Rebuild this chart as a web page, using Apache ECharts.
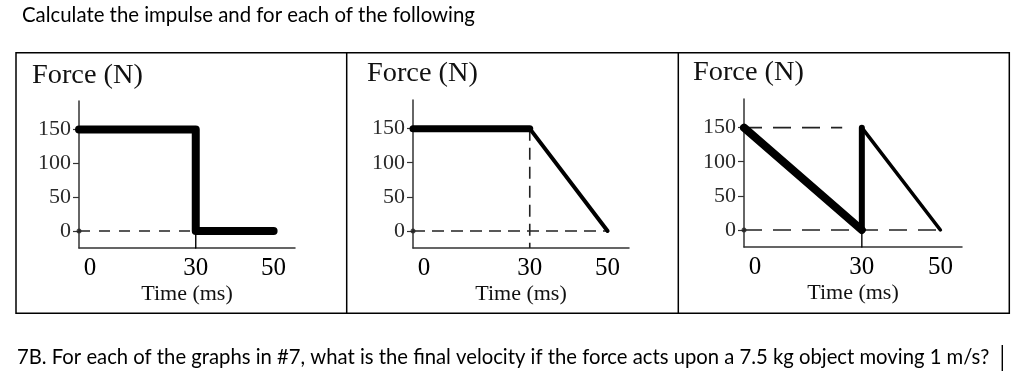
<!DOCTYPE html>
<html>
<head>
<meta charset="utf-8">
<script src="https://cdn.jsdelivr.net/npm/echarts@6/dist/echarts.min.js"></script>
<style>
html,body{margin:0;padding:0;background:#fff;}
#chart{width:1032px;height:380px;}
</style>
</head>
<body>
<div id="chart"></div>
<script>
// ---- text ----
const headingText = 'Calculate the impulse and for each of the following';
const questionText = '7B. For each of the graphs in #7, what is the final velocity if the force acts upon a 7.5 kg object moving 1 m/s?';
const panelTitles = ['Force (N)', 'Force (N)', 'Force (N)'];
const xAxisName = 'Time (ms)';

// ---- ticks ----
const xTicks = [0, 30, 50];
const yTicks = [0, 50, 100, 150];

// ---- panel A: constant then zero ----
const forceA = [[0, 150], [30, 150], [30, 0], [50, 0]];
const guideA = [[0, 0], [30, 0]];
const dropA = [[30, 0], [30, -25]];

// ---- panel B: constant then ramp ----
const forceBflat = [[0, 150], [30, 150]];
const forceBramp = [[30, 150], [50, 0]];
const guideBzero = [[0, 0], [50, 0]];
const guideBvert = [[30, 150], [30, -25]];

// ---- panel C: saw-tooth ----
const forceCramp1 = [[0, 150], [30, 0]];
const forceCjump = [[30, 0], [30, 150]];
const forceCramp2 = [[30, 150], [50, 0]];
const guideCtop = [[0, 150], [25, 150]];
const guideCzero = [[0, 0], [50, 0]];
const dropC = [[30, 0], [30, -25]];

const origin = [[0, 0]];

const SERIF = 'Liberation Serif';
const SANS = 'Lato';

function fitSize(text, family, target) {
  const c = document.createElement('canvas').getContext('2d');
  c.font = '100px "' + family + '"';
  return 100 * target / c.measureText(text).width;
}

const grids = [
  {left: 79, top: 101, width: 216, height: 147},
  {left: 413, top: 100, width: 216, height: 148},
  {left: 744, top: 99, width: 218, height: 148}
];

const xAxes = grids.map((g, i) => ({
  type: 'value', gridIndex: i, min: 0, max: 55.5,
  name: xAxisName, nameLocation: 'middle', nameGap: 35,
  nameTextStyle: {fontFamily: SERIF, fontSize: 22, color: '#111'},
  axisLine: {show: true, onZero: false, lineStyle: {color: '#333', width: 1.5}},
  axisTick: {show: false},
  splitLine: {show: false},
  axisLabel: {
    customValues: xTicks, margin: 8, fontFamily: SERIF, fontSize: 25, color: '#000',
    formatter: v => v === 0 ? '{z|0}' : String(v),
    rich: {z: {padding: [0, 0, 0, 22], fontFamily: SERIF, fontSize: 25, color: '#000'}}
  }
}));

const yAxes = grids.map((g, i) => ({
  type: 'value', gridIndex: i, min: -25, max: 192,
  axisLine: {show: true, onZero: false, lineStyle: {color: '#333', width: 1.5}},
  axisTick: {show: true, customValues: yTicks, length: 6, lineStyle: {color: '#333', width: 1.2}},
  splitLine: {show: false},
  axisLabel: {customValues: yTicks, margin: 8, fontFamily: SERIF, fontSize: 22, color: '#2a2a2a'}
}));

function line(data, idx, width, dashed, dash) {
  return {
    type: 'line', xAxisIndex: idx, yAxisIndex: idx, data: data,
    symbol: 'none', clip: false, silent: true, z: dashed ? 2 : 3,
    lineStyle: {
      color: dashed ? '#222' : '#000', width: width,
      type: dashed ? (dash || [11, 8]) : 'solid',
      cap: dashed ? 'butt' : 'round', join: 'round'
    }
  };
}
function dot(idx) {
  return {type: 'scatter', xAxisIndex: idx, yAxisIndex: idx, data: origin,
    symbolSize: 5, itemStyle: {color: '#222'}, silent: true, clip: false, z: 4};
}

const series = [
  line(guideA, 0, 1.6, true, [11, 9]),
  line(dropA, 0, 1.4, false),
  line(forceA, 0, 8, false),
  dot(0),
  line(guideBzero, 1, 1.6, true, [12, 7]),
  line(guideBvert, 1, 1.6, true, [12, 7]),
  line(forceBflat, 1, 7, false),
  line(forceBramp, 1, 4, false),
  dot(1),
  line(guideCtop, 2, 1.6, true, [18, 11]),
  line(guideCzero, 2, 1.6, true, [18, 11]),
  line(dropC, 2, 1.4, false),
  line(forceCramp1, 2, 8, false),
  line(forceCjump, 2, 6, false),
  line(forceCramp2, 2, 3.5, false),
  dot(2)
];

const headingSize = fitSize(headingText, SANS, 453);
const questionSize = fitSize(questionText, SANS, 973);

const titlePos = [[32, 76], [367, 74], [693, 72.5]];
const titleSize = fitSize('Force (N)', SERIF, 111);

const graphic = [
  {type: 'rect', shape: {x: 16, y: 52.7, width: 993.3, height: 260.6},
   style: {fill: 'none', stroke: '#000', lineWidth: 1.5}},
  {type: 'line', shape: {x1: 346.7, y1: 52.7, x2: 346.7, y2: 313.3},
   style: {stroke: '#000', lineWidth: 1.5}},
  {type: 'line', shape: {x1: 678.3, y1: 52.7, x2: 678.3, y2: 313.3},
   style: {stroke: '#000', lineWidth: 1.5}},
  {type: 'text', left: 22, top: 15.5 - headingSize / 2,
   style: {text: headingText, fontFamily: SANS, fontSize: headingSize, fill: '#000'}},
  {type: 'text', left: 17, top: 358 - questionSize / 2,
   style: {text: questionText, fontFamily: SANS, fontSize: questionSize, fill: '#000'}},
  {type: 'line', shape: {x1: 1002.3, y1: 345, x2: 1002.3, y2: 371},
   style: {stroke: '#000', lineWidth: 1.4}}
].concat(panelTitles.map((t, i) => ({
  type: 'text', left: titlePos[i][0], top: titlePos[i][1] - titleSize / 2,
  style: {text: t, fontFamily: SERIF, fontSize: titleSize, fill: '#111'}
})));

const chart = echarts.init(document.getElementById('chart'), null, {renderer: 'canvas'});
chart.setOption({
  animation: false,
  backgroundColor: '#fff',
  grid: grids,
  xAxis: xAxes,
  yAxis: yAxes,
  series: series,
  graphic: graphic
});
</script>
</body>
</html>
